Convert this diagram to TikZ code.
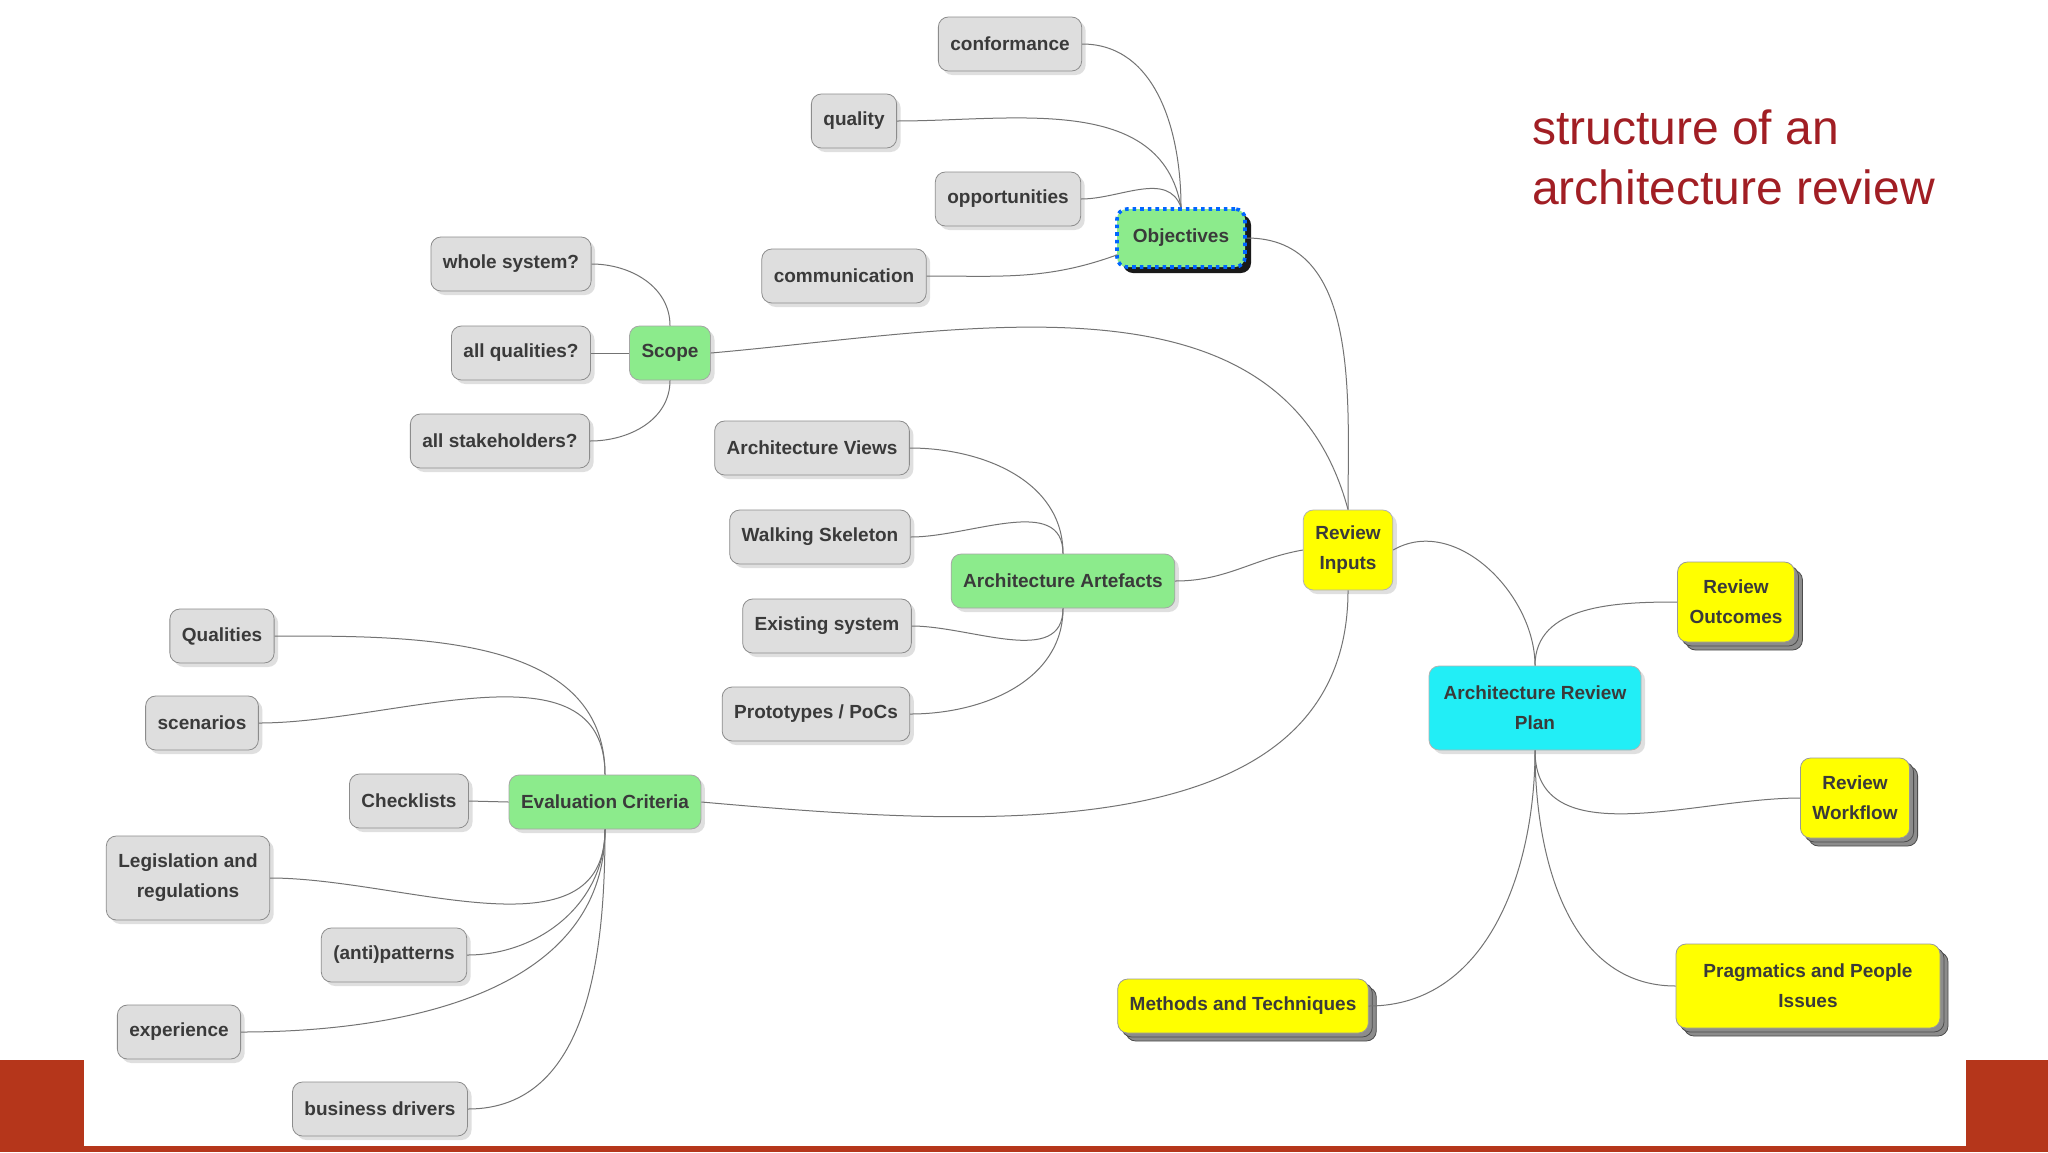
\documentclass[tikz,border=0pt]{standalone}
\usepackage{fontspec}
\setmainfont{Liberation Sans}
\usetikzlibrary{shadows}
\definecolor{band}{HTML}{B5361B}
\definecolor{ttl}{HTML}{A11E24}
\definecolor{gbox}{HTML}{DEDEDE}
\definecolor{grn}{HTML}{8CEB8C}
\definecolor{ylw}{HTML}{FFFF00}
\definecolor{cyn}{HTML}{22EEF6}
\definecolor{txt}{HTML}{3A3A3A}
\begin{document}
\begin{tikzpicture}[x=0.5pt,y=-0.5pt,
  base/.style={rounded corners=5pt,font=\bfseries\fontsize{9.5}{15}\selectfont,text=txt,align=center,minimum height=27pt,inner xsep=6pt},
  gb/.style={base,fill=gbox,draw=black!45,drop shadow={shadow xshift=2pt,shadow yshift=-2pt,opacity=0.25}},
  gn/.style={base,fill=grn,draw=black!35,drop shadow={shadow xshift=2pt,shadow yshift=-2pt,opacity=0.25}},
  yl/.style={base,fill=ylw,draw=black!40,minimum height=40pt,
    double copy shadow={shadow xshift=2pt,shadow yshift=-2pt,fill=black!45,draw=black!70}},
  yls/.style={base,fill=ylw,draw=black!30,minimum height=40pt,drop shadow={shadow xshift=2pt,shadow yshift=-2pt,opacity=0.25}},
  ln/.style={draw=black!55,line width=0.5pt}]
\useasboundingbox (0,0) rectangle (2048,1152);
\fill[white] (0,0) rectangle (2048,1152);
\fill[band] (0,1060) rectangle (84,1152);
\fill[band] (1966,1060) rectangle (2048,1152);
\fill[band] (0,1146) rectangle (2048,1152);
\node[anchor=west,text=ttl,font=\fontsize{24}{30}\selectfont,align=left] (title) at (1525,157) {structure of an\\architecture review};
% nodes
\node[gb] (conf) at (1010,44) {conformance};
\node[gb] (qual) at (854,121) {quality};
\node[gb] (opp) at (1008,199) {opportunities};
\node[gb] (comm) at (844,276) {communication};
\node[base,fill=grn,draw=blue!60!cyan,line width=1.8pt,dotted,minimum width=64pt,minimum height=29pt,
  drop shadow={shadow xshift=3pt,shadow yshift=-3pt,opacity=0.9,fill=black}] (obj) at (1181,238) {Objectives};
\node[gb] (whole) at (511,264) {whole system?};
\node[gb] (allq) at (521,353) {all qualities?};
\node[gb] (alls) at (500,441) {all stakeholders?};
\node[gn] (scope) at (670,353) {Scope};
\node[gb] (views) at (812,448) {Architecture Views};
\node[gb] (walk) at (820,537) {Walking Skeleton};
\node[gb] (exist) at (827,626) {Existing system};
\node[gb] (proto) at (816,714) {Prototypes / PoCs};
\node[gn] (art) at (1063,581) {Architecture Artefacts};
\node[yls] (inp) at (1348,550) {Review\\Inputs};
\node[base,fill=cyn,draw=black!30,minimum width=106pt,minimum height=42pt,drop shadow={shadow xshift=2pt,shadow yshift=-2pt,opacity=0.25}] (plan) at (1535,708) {Architecture Review\\Plan};
\node[yl] (outc) at (1736,602) {Review\\Outcomes};
\node[yl] (wf) at (1855,798) {Review\\Workflow};
\node[yl,minimum width=132pt,minimum height=42pt] (prag) at (1808,986) {Pragmatics and People\\Issues};
\node[yl,minimum height=27pt] (meth) at (1243,1006) {Methods and Techniques};
\node[gb] (qs) at (222,636) {Qualities};
\node[gb] (scen) at (202,723) {scenarios};
\node[gb] (check) at (409,801) {Checklists};
\node[gn] (eval) at (605,802) {Evaluation Criteria};
\node[gb,minimum height=42pt] (legis) at (188,878) {Legislation and\\regulations};
\node[gb] (anti) at (394,955) {(anti)patterns};
\node[gb] (exp) at (179,1032) {experience};
\node[gb] (bus) at (380,1109) {business drivers};
% connectors
\draw[ln] (obj.north) to[out=90,in=0] (conf.east);
\draw[ln] (obj.north) to[out=100,in=0] (qual.east);
\draw[ln] (obj.north) to[out=110,in=0] (opp.east);
\coordinate (objl) at ([xshift=1pt,yshift=7pt]obj.south west);
\draw[ln] (objl) to[out=200,in=0] (comm.east);
\draw[ln] (scope.north) to[out=90,in=0] (whole.east);
\draw[ln] (scope.west) -- (allq.east);
\draw[ln] (scope.south) to[out=-90,in=0] (alls.east);
\draw[ln] (art.north) to[out=90,in=0] (views.east);
\draw[ln] (art.north) to[out=90,in=0] (walk.east);
\draw[ln] (art.south) to[out=-90,in=0] (exist.east);
\draw[ln] (art.south) to[out=-90,in=0] (proto.east);
\draw[ln] (inp.north) to[out=90,in=0] (obj.east);
\draw[ln] (scope.east) to[out=5,in=105] (inp.north);
\draw[ln] (art.east) to[out=0,in=190] (inp.west);
\draw[ln] (eval.east) to[out=-5,in=-90] (inp.south);
\draw[ln] (inp.east) to[out=30,in=90] (plan.north);
\draw[ln] (plan.north) to[out=90,in=180] (outc.west);
\draw[ln] (plan.south) to[out=-90,in=180] (wf.west);
\draw[ln] (plan.south) to[out=-90,in=180] (prag.west);
\draw[ln] (plan.south) to[out=-90,in=0] (meth.east);
\draw[ln] (eval.north) to[out=90,in=0] (qs.east);
\draw[ln] (eval.north) to[out=90,in=0] (scen.east);
\draw[ln] (eval.west) -- (check.east);
\draw[ln] (eval.south) to[out=-90,in=0] (legis.east);
\draw[ln] (eval.south) to[out=-90,in=0] (anti.east);
\draw[ln] (eval.south) to[out=-90,in=0] (exp.east);
\draw[ln] (eval.south) to[out=-90,in=0] (bus.east);
\end{tikzpicture}
\end{document}
